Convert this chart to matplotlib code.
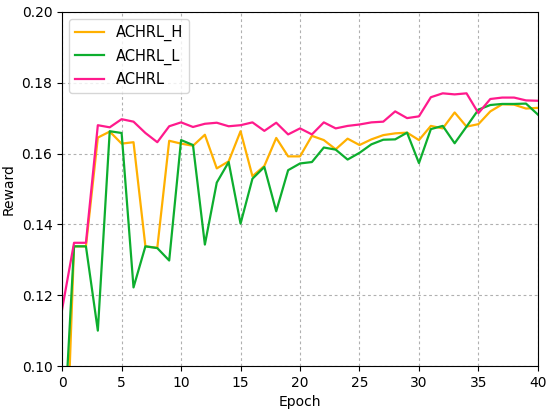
import numpy as np
from matplotlib import pyplot as plt

epochs = list(range(41))

achrl_h = [0.040, 0.1338, 0.1338, 0.1645, 0.1662, 0.1628, 0.1632, 0.1338, 0.1334, 0.1636,
           0.1628, 0.1622, 0.1653, 0.1558, 0.1578, 0.1663, 0.1536, 0.1565, 0.1644, 0.1592,
           0.1592, 0.1650, 0.1638, 0.1612, 0.1642, 0.1624, 0.1640, 0.1652, 0.1657, 0.1659,
           0.1638, 0.1678, 0.1671, 0.1716, 0.1676, 0.1683, 0.1719, 0.1739, 0.1738, 0.1727,
           0.1729]

achrl_l = [0.072, 0.1338, 0.1338, 0.1100, 0.1663, 0.1658, 0.1222, 0.1338, 0.1333, 0.1298,
           0.1638, 0.1624, 0.1343, 0.1518, 0.1576, 0.1402, 0.1529, 0.1562, 0.1437, 0.1553,
           0.1572, 0.1576, 0.1617, 0.1611, 0.1583, 0.1602, 0.1626, 0.1639, 0.1640, 0.1659,
           0.1573, 0.1669, 0.1678, 0.1629, 0.1676, 0.1724, 0.1737, 0.1740, 0.1740, 0.1741,
           0.1710]

achrl = [0.1161, 0.1348, 0.1348, 0.1680, 0.1674, 0.1697, 0.1690, 0.1658, 0.1632, 0.1677,
         0.1688, 0.1675, 0.1684, 0.1687, 0.1677, 0.1680, 0.1688, 0.1664, 0.1687, 0.1654,
         0.1671, 0.1654, 0.1688, 0.1671, 0.1678, 0.1682, 0.1688, 0.1690, 0.1719, 0.1700,
         0.1705, 0.1759, 0.1770, 0.1767, 0.1770, 0.1714, 0.1754, 0.1758, 0.1758, 0.1750,
         0.1749]

fig = plt.figure(figsize=(5.5, 4.09), dpi=100)
ax = fig.add_axes([0.113, 0.105, 0.865, 0.866])

plt_opts = {'linewidth': 1.6}
ax.plot(epochs, achrl_h, color='#FFB000', label='ACHRL_H', **plt_opts)
ax.plot(epochs, achrl_l, color='#0DAE2E', label='ACHRL_L', **plt_opts)
ax.plot(epochs, achrl, color='#FF1A8C', label='ACHRL', **plt_opts)

ax.set_xlim(0, 40)
ax.set_ylim(0.10, 0.20)
ax.set_xticks(np.arange(0, 41, 5))
ax.set_yticks(np.arange(0.10, 0.201, 0.02))
ax.grid(True, linestyle=(0, (2.5, 2.5)), color='#b0b0b0', linewidth=0.8)
ax.tick_params(labelsize=10)
ax.set_xlabel('Epoch', fontsize=10)
ax.set_ylabel('Reward', fontsize=10)
ax.legend(loc='upper left', fontsize=10.5)

fig.savefig('out.png', dpi=100)
